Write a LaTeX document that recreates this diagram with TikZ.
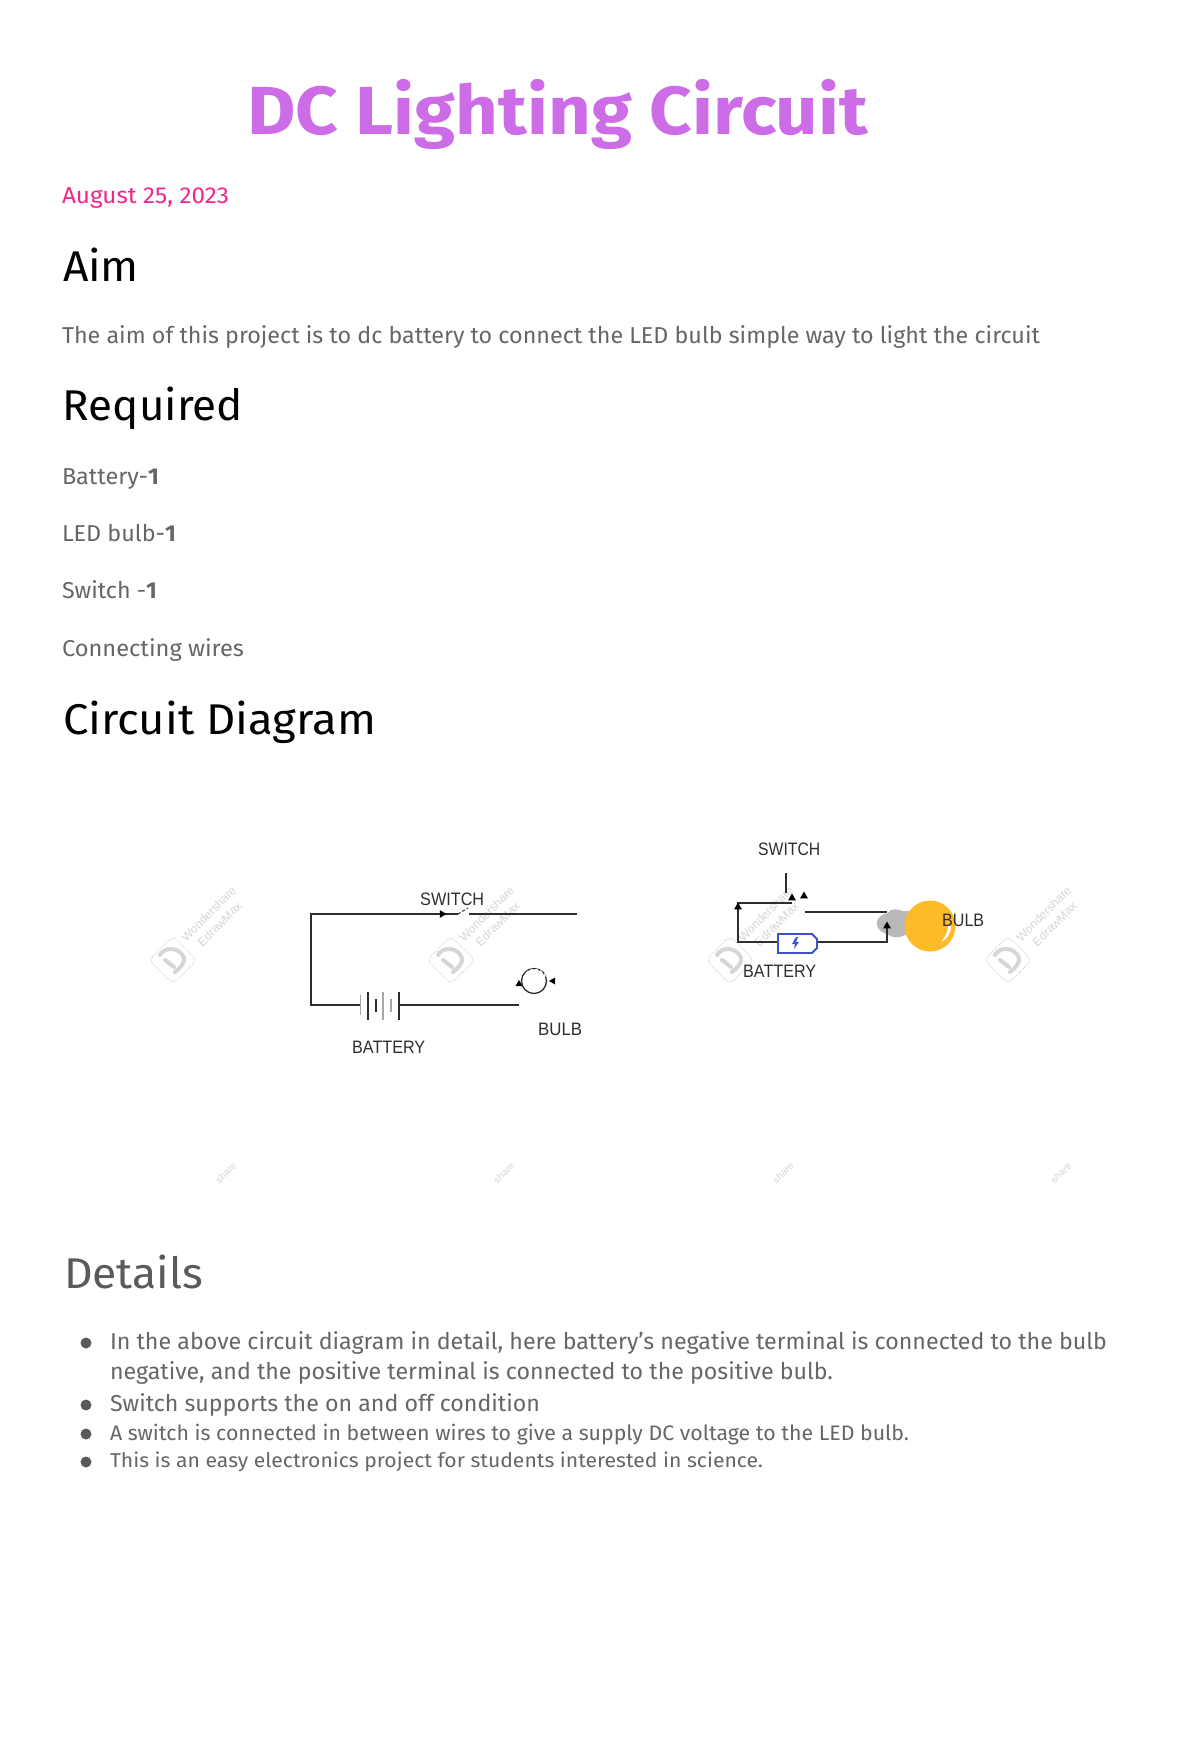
\documentclass[tikz,border=0pt]{standalone}
\usepackage{fontspec}
\usepackage{graphicx}
\setmainfont{Fira Sans}
\newfontfamily\labfont{Liberation Sans}
\usetikzlibrary{shapes.geometric}
\definecolor{titlecol}{HTML}{CC6CE7}
\definecolor{datecol}{HTML}{F0288C}
\definecolor{bodycol}{HTML}{666666}
\definecolor{detcol}{HTML}{5A5A5A}
\definecolor{wirecol}{HTML}{2E2E2E}
\definecolor{battcol}{HTML}{3F51C8}
\definecolor{bulbcol}{HTML}{FDBB27}
\definecolor{markcol}{HTML}{D6D6D6}
\newcommand\fitw[2]{\resizebox{#1pt}{\height}{#2}}
\tikzset{
  x=1pt,y=-1pt,
  txt/.style={anchor=base west,inner sep=0pt,outer sep=0pt},
  titletxt/.style={txt,text=titlecol,font=\fontsize{68}{72}\selectfont\bfseries},
  datetxt/.style={txt,text=datecol,font=\fontsize{23}{27}\selectfont},
  headtxt/.style={txt,text=black,font=\fontsize{43}{48}\selectfont},
  dethead/.style={txt,text=detcol,font=\fontsize{43}{48}\selectfont},
  bodytxt/.style={txt,text=bodycol,font=\fontsize{23}{27}\selectfont},
  smalltxt/.style={txt,text=bodycol,font=\fontsize{21}{25}\selectfont},
  tinytxt/.style={txt,text=bodycol,font=\fontsize{20}{24}\selectfont},
  bulletdot/.style={circle,fill=detcol,inner sep=0pt,minimum size=11pt},
  wire/.style={draw=wirecol,line width=1.8pt},
  cell/.style={draw=wirecol,line width=1.6pt},
  cellgray/.style={draw=gray!70,line width=1.6pt},
  tip/.style={regular polygon,regular polygon sides=3,fill=black,inner sep=0pt,minimum size=9pt},
  lab/.style={anchor=base west,inner sep=0pt,text=wirecol,font=\labfont\fontsize{18}{20}\selectfont},
  marktxt/.style={rotate=45,inner sep=0pt,align=left,text=markcol,font=\labfont\fontsize{12}{15}\selectfont},
  logo/.style={draw=markcol,densely dotted,line width=0.9pt,rounded corners=6pt},
  logoline/.style={draw=markcol,line width=4pt,line cap=round},
  markmark/.pic={
    \path[logo] (-24,0) -- (0,-24) -- (24,0) -- (0,24) -- cycle;
    \path[logoline] (-13,-5) .. controls (-8,-14) and (7,-13) .. (11,-2) .. controls (12,3) and (7,8) .. (2,12);
    \path[logoline] (-8,0) -- (1,7);
  }
}
\begin{document}
\begin{tikzpicture}
\useasboundingbox[fill=white] (0,0) rectangle (1200,1749);

% --- text ---
\node[titletxt] (title) at (247,134) {\fitw{621}{DC Lighting Circuit}};
\node[datetxt] (date) at (62,203) {\fitw{167}{August 25, 2023}};
\node[headtxt] (aim) at (63,281) {\fitw{76}{Aim}};
\node[bodytxt] (aimtext) at (62,343) {\fitw{978}{The aim of this project is to dc battery to connect the LED bulb simple way to light the circuit}};
\node[headtxt] (req) at (63,420) {\fitw{180}{Required}};
\node[bodytxt] (r1) at (62,484) {\fitw{97}{Battery-\textbf{1}}};
\node[bodytxt] (r2) at (62,541) {\fitw{114}{LED bulb-\textbf{1}}};
\node[bodytxt] (r3) at (62,598) {\fitw{95}{Switch -\textbf{1}}};
\node[bodytxt] (r4) at (62,656) {\fitw{182}{Connecting wires}};
\node[headtxt] (cd) at (63,734) {\fitw{313}{Circuit Diagram}};
\node[dethead] (det) at (64,1288) {\fitw{139}{Details}};
\node[bodytxt] (d1) at (110,1349) {\fitw{997}{In the above circuit diagram in detail, here battery's negative terminal is connected to the bulb}};
\node[bodytxt] (d1b) at (110,1379) {\fitw{723}{negative, and the positive terminal is connected to the positive bulb.}};
\node[bodytxt] (d2) at (110,1411) {\fitw{430}{Switch supports the on and off condition}};
\node[smalltxt] (d3) at (110,1440) {\fitw{799}{A switch is connected in between wires to give a supply DC voltage to the LED bulb.}};
\node[tinytxt] (d4) at (110,1467) {\fitw{653}{This is an easy electronics project for students interested in science.}};
\node[bulletdot] (b1) at (86,1343) {};
\node[bulletdot] (b2) at (86,1405) {};
\node[bulletdot] (b3) at (86,1434) {};
\node[bulletdot] (b4) at (86,1462) {};

% --- watermarks ---
\foreach \mx/\mn in {173/a,451/b,730/c,1008/d}{
  \pic at (\mx,960) {markmark};
  \node[marktxt] (wm\mn) at (\mx+41,919) {Wondershare\\\hspace*{8pt}EdrawMax};
  \node[marktxt,font=\labfont\fontsize{10}{12}\selectfont] (ws\mn) at (\mx+53,1173) {share};
}

% --- left circuit ---
\coordinate (lsw1) at (458,914);
\coordinate (lsw2) at (469,914);
\coordinate (lend) at (577,914);
\coordinate (ltl) at (311,914);
\coordinate (lbl) at (311,1005);
\coordinate (lbat1) at (360,1005);
\coordinate (lbat2) at (399,1005);
\coordinate (lbulbin) at (519,1005);
\draw[wire] (lsw1) -- (ltl) -- (lbl) -- (lbat1);
\draw[wire] (lsw2) -- (lend);
\draw[wire] (lbat2) -- (lbulbin);
\draw[wire,densely dashed,line width=1pt] (lsw1) -- (468,908);
\draw[cellgray,line width=1pt] (360,995) -- (360,1015);
\draw[cell] (368,992) -- (368,1020);
\draw[cell] (376,999) -- (376,1012);
\draw[cellgray] (383,992) -- (383,1020);
\draw[cellgray] (391,999) -- (391,1012);
\draw[cell] (399,992) -- (399,1020);
\node[tip,shape border rotate=-90] (ltip) at (442,914) {};
\node[circle,draw=wirecol,line width=1.3pt,minimum size=25pt,inner sep=0pt] (lbulb) at (534,981) {};
\draw[white,line width=1.2pt,densely dashed] (526,973) arc[start angle=225,end angle=340,radius=12];
\node[tip,shape border rotate=90,minimum size=8pt] (lt2) at (553,981) {};
\node[tip,minimum size=8pt] (lt3) at (519,984) {};
\node[lab] (lsw) at (420,905) {\fitw{64}{SWITCH}};
\node[lab] (lba) at (352,1053) {\fitw{73}{BATTERY}};
\node[lab] (lbu) at (538,1035) {\fitw{44}{BULB}};

% --- right circuit ---
\fill[gray!55] (877,925) .. controls (876,917) and (883,914) .. (888,913) .. controls (890,908) and (898,909) .. (903,911) -- (915,911) -- (915,936) -- (905,935) .. controls (900,938) and (892,938) .. (889,935) .. controls (884,933) and (878,931) .. (877,925) -- cycle;
\node[circle,fill=bulbcol,minimum size=51pt,inner sep=0pt] (rbulb) at (930,926) {};
\fill[white] (951,926) .. controls (951,934) and (946,940) .. (941,942) .. controls (945,937) and (948,932) .. (948,926) -- cycle;
\coordinate (rstop) at (786,873);
\coordinate (rsbot) at (786,893);
\coordinate (rtl) at (738,903);
\coordinate (rtr) at (792,903);
\coordinate (rbl) at (738,942);
\coordinate (rw1) at (805,912);
\coordinate (rw2) at (887,912);
\coordinate (rbr) at (887,942);
\coordinate (rbru) at (887,925);
\draw[wire] (rstop) -- (rsbot);
\draw[wire] (rtr) -- (rtl) -- (rbl) -- (778,942);
\draw[wire] (rw1) -- (rw2);
\draw[wire] (817,942) -- (rbr) -- (rbru);
\draw[battcol,line width=1.8pt,fill=white] (778,934) -- (812,934) -- (817,939) -- (817,948) -- (812,953) -- (778,953) -- cycle;
\fill[battcol] (796,937) -- (792,944) -- (795,944) -- (794,949) -- (799,942) -- (796,942) -- (798,937) -- cycle;
\node[tip,shape border rotate=0] (rt1) at (738,907) {};
\node[tip,shape border rotate=0] (rt2) at (792,898) {};
\node[tip,shape border rotate=0] (rt3) at (804,896) {};
\node[tip,shape border rotate=0] (rt4) at (887,926) {};
\node[lab] (rsw) at (758,855) {\fitw{62}{SWITCH}};
\node[lab] (rba) at (743,977) {\fitw{73}{BATTERY}};
\node[lab] (rbu) at (942,926) {\fitw{42}{BULB}};
\end{tikzpicture}
\end{document}
